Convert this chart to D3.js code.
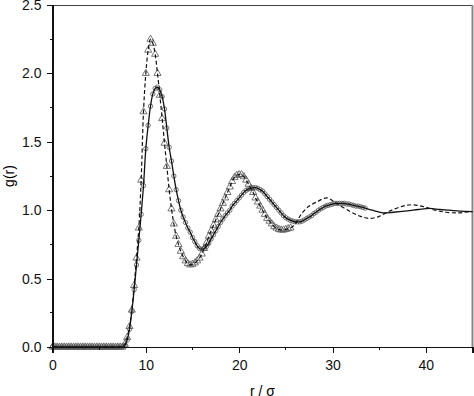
<!DOCTYPE html>
<html lang="en">
<head>
    <meta charset="UTF-8">
    <script src="https://d3js.org/d3.v7.min.js"></script>
    <title>g(r)</title>
    <style>
        body {
            margin: 0;
            background: #fff;
            font-family: "Liberation Sans", Arial, sans-serif;
        }
        .axis text {
            font-size: 14px;
            fill: #111;
        }
        .axis path,
        .axis line {
            stroke: #111;
            shape-rendering: crispEdges;
        }
    </style>
</head>
<body>
    <div id="chart"></div>

    <script>
        // sampled r grid for the symbol series (step 0.25)
        const rSim = d3.range(0, 33.51, 0.25);

        // triangles (dashed curve), r = 0 .. 25.5
        const gTri = [
            0, 0, 0, 0, 0, 0, 0, 0, 0, 0, 0, 0, 0, 0, 0, 0,
            0, 0, 0, 0, 0, 0, 0, 0, 0, 0, 0, 0, 0, 0, 0,
            0.02, 0.07, 0.15, 0.27, 0.45, 0.65, 0.87, 1.22, 1.72, 2.0, 2.17, 2.25,
            2.22, 2.14, 2.0, 1.84, 1.67, 1.49, 1.32, 1.15, 1.01, 0.9, 0.81, 0.75,
            0.70, 0.66, 0.63, 0.61, 0.60, 0.605, 0.615, 0.63, 0.65, 0.68, 0.72, 0.76,
            0.81, 0.85, 0.89, 0.93, 0.97, 1.01, 1.05, 1.09, 1.13, 1.17, 1.21, 1.24,
            1.255, 1.26, 1.26, 1.245, 1.22, 1.19, 1.16, 1.13, 1.09, 1.06, 1.03, 1.0,
            0.97, 0.94, 0.92, 0.90, 0.88, 0.87, 0.86, 0.855, 0.855, 0.86, 0.865, 0.87
        ];

        // circles (solid curve), r = 0 .. 33.5
        const gCirc = [
            0, 0, 0, 0, 0, 0, 0, 0, 0, 0, 0, 0, 0, 0, 0, 0,
            0, 0, 0, 0, 0, 0, 0, 0, 0, 0, 0, 0, 0, 0, 0,
            0.01, 0.05, 0.13, 0.26, 0.42, 0.6, 0.78, 0.97, 1.18, 1.45, 1.62, 1.76,
            1.85, 1.89, 1.90, 1.88, 1.83, 1.74, 1.6, 1.46, 1.36, 1.25, 1.15, 1.07,
            1.0, 0.95, 0.91, 0.87, 0.84, 0.8, 0.77, 0.74, 0.72, 0.715, 0.72, 0.735,
            0.76, 0.79, 0.82, 0.85, 0.88, 0.91, 0.935, 0.96, 0.98, 1.0, 1.03, 1.05,
            1.07, 1.09, 1.11, 1.13, 1.145, 1.155, 1.16, 1.165, 1.165, 1.16, 1.15,
            1.14, 1.12, 1.1, 1.08, 1.06, 1.04, 1.02, 1.0, 0.98, 0.96, 0.945, 0.935,
            0.925, 0.92, 0.915, 0.915, 0.915, 0.92, 0.93, 0.94, 0.95, 0.96, 0.975,
            0.985, 1.0, 1.01, 1.02, 1.03, 1.035, 1.04, 1.045, 1.05, 1.05, 1.05, 1.05,
            1.05, 1.045, 1.045, 1.04, 1.035, 1.03, 1.03, 1.025, 1.02, 1.015
        ];

        // long-range tails of the two curves
        const rDashTail = [26, 26.75, 27.5, 28.3, 29.4, 30.4, 31.9, 33, 34, 35, 36, 37.3, 38.5, 39.8, 41, 42.2, 43.4, 44.2, 45];
        const gDashTail = [0.9, 0.98, 1.03, 1.06, 1.09, 1.05, 0.99, 0.955, 0.94, 0.955, 0.99, 1.025, 1.04, 1.025, 1.0, 0.985, 0.98, 0.985, 0.99];
        const rSolidTail = [34, 34.5, 35.4, 36.5, 38, 39.2, 40.4, 41.5, 42.5, 43.7, 45];
        const gSolidTail = [1.005, 0.995, 0.98, 0.985, 0.995, 1.005, 1.013, 1.005, 1.0, 0.993, 0.99];

        const xTicks = [0, 10, 20, 30, 40];
        const yTicks = [0.0, 0.5, 1.0, 1.5, 2.0, 2.5];

        const margin = { top: 5, right: 1.5, bottom: 49, left: 52.5 };
        const W = 474, H = 396;
        const width = W - margin.left - margin.right;
        const height = H - margin.top - margin.bottom;

        const svg = d3.select("#chart").append("svg")
            .attr("width", W)
            .attr("height", H);

        const g = svg.append("g")
            .attr("transform", `translate(${margin.left},${margin.top})`);

        const x = d3.scaleLinear().domain([0, 45]).range([0, width]);
        const y = d3.scaleLinear().domain([0, 2.5]).range([height, 0]);

        const triPts = gTri.map((v, i) => [rSim[i], v]);
        const circPts = gCirc.map((v, i) => [rSim[i], v]);
        const dashPts = triPts.concat(rDashTail.map((r, i) => [r, gDashTail[i]]));
        const solidPts = circPts.concat(rSolidTail.map((r, i) => [r, gSolidTail[i]]));

        // frame (top and right)
        g.append("line").attr("x1", 0).attr("x2", width).attr("y1", 0.5).attr("y2", 0.5)
            .attr("stroke", "#444").attr("stroke-width", 1);
        g.append("line").attr("x1", width).attr("x2", width).attr("y1", 0).attr("y2", height)
            .attr("stroke", "#888").attr("stroke-width", 2);

        // symbols
        const tri = d3.symbol().type(d3.symbolTriangle).size(22);
        g.append("g").selectAll("path")
            .data(triPts)
            .join("path")
            .attr("d", tri)
            .attr("transform", d => `translate(${x(d[0])},${y(d[1])})`)
            .attr("fill", "none")
            .attr("stroke", "#555")
            .attr("stroke-width", 0.8);

        g.append("g").selectAll("circle")
            .data(circPts)
            .join("circle")
            .attr("cx", d => x(d[0]))
            .attr("cy", d => y(d[1]))
            .attr("r", 2.2)
            .attr("fill", "none")
            .attr("stroke", "#555")
            .attr("stroke-width", 0.8);

        const line = d3.line()
            .x(d => x(d[0]))
            .y(d => y(d[1]))
            .curve(d3.curveCatmullRom);

        g.append("path")
            .datum(dashPts)
            .attr("d", line)
            .attr("fill", "none")
            .attr("stroke", "#111")
            .attr("stroke-width", 1.2)
            .attr("stroke-dasharray", "4,2.5");

        g.append("path")
            .datum(solidPts)
            .attr("d", line)
            .attr("fill", "none")
            .attr("stroke", "#111")
            .attr("stroke-width", 1.3);

        // axes
        const xAxis = g.append("g")
            .attr("class", "axis")
            .attr("transform", `translate(0,${height})`)
            .call(d3.axisBottom(x).tickValues(xTicks).tickSize(6).tickPadding(7).tickFormat(d3.format("d")));
        xAxis.selectAll("line.minor")
            .data([5, 15, 25, 35, 45])
            .join("line")
            .attr("class", "minor")
            .attr("x1", d => x(d)).attr("x2", d => x(d))
            .attr("y1", 0).attr("y2", 3)
            .attr("stroke", "#111");

        const yAxis = g.append("g")
            .attr("class", "axis")
            .call(d3.axisLeft(y).tickValues(yTicks).tickSize(6).tickPadding(5).tickFormat(d3.format(".1f")));
        yAxis.selectAll("line.minor")
            .data([0.25, 0.75, 1.25, 1.75, 2.25])
            .join("line")
            .attr("class", "minor")
            .attr("x1", 0).attr("x2", -3)
            .attr("y1", d => y(d)).attr("y2", d => y(d))
            .attr("stroke", "#111");

        xAxis.select(".domain").attr("stroke-width", 1.8);
        yAxis.select(".domain").attr("stroke-width", 1.8);

        // axis titles
        svg.append("text")
            .attr("x", margin.left + width / 2)
            .attr("y", 396)
            .attr("text-anchor", "middle")
            .style("font-size", "14px")
            .text("r / σ");

        svg.append("text")
            .attr("transform", `translate(14,${margin.top + height / 2}) rotate(-90)`)
            .attr("text-anchor", "middle")
            .style("font-size", "14px")
            .text("g(r)");
    </script>
</body>
</html>
